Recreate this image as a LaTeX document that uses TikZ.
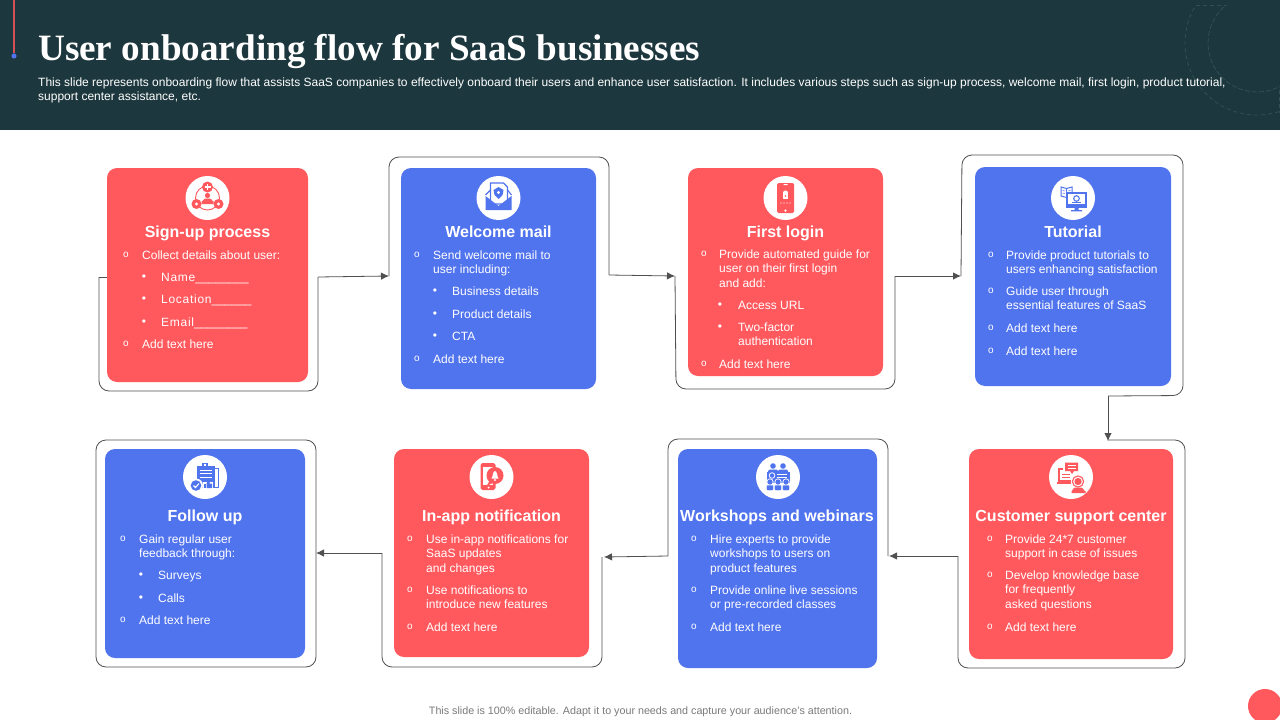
\documentclass[tikz,border=0pt]{standalone}
\usepackage{fontspec}
\setmainfont{Liberation Sans}
\newfontfamily\titlefont{Liberation Serif}
\usetikzlibrary{arrows.meta}
\definecolor{hdr}{HTML}{1C373D}
\definecolor{hdrdeco}{HTML}{305055}
\definecolor{cred}{HTML}{FF585D}
\definecolor{cblue}{HTML}{5073EE}
\definecolor{wire}{HTML}{505050}
\definecolor{foot}{HTML}{7A7A7A}
\newcounter{tn}
\newcommand\wideword[1]{{\addfontfeatures{LetterSpace=6}#1}}
\tikzset{
  card/.style={rectangle,rounded corners=10pt,inner sep=0pt,draw=none},
  disc/.style={circle,fill=white,minimum size=44pt,inner sep=0pt,draw=none},
  head/.style={font=\fontsize{16}{18}\selectfont\bfseries,text=white,inner sep=0pt,anchor=base},
  txt/.style={anchor=north west,inner sep=0pt,align=left,text=white,font=\fontsize{12}{14.4}\selectfont},
  bul/.style={anchor=base,inner sep=0pt,text=white,font=\fontsize{10}{10}\selectfont},
  dotbul/.style={anchor=base,inner sep=0pt,text=white,font=\fontsize{12}{12}\selectfont},
  wirefr/.style={draw=wire,line width=0.8pt,rounded corners=10pt},
  wirearrow/.style={draw=wire,line width=0.8pt,-{Latex[length=8pt,width=7.5pt]}},
}
\newcommand\Oitem[4]{\stepcounter{tn}%
  \node[bul] (b\thetn) at (#1,#3-2) {o};
  \node[txt] (t\thetn) at (#2,#3-9) {\rule{0pt}{9pt}#4};}
\newcommand\Ditem[4]{\stepcounter{tn}%
  \node[dotbul] (b\thetn) at (#1,#3-1) {•};
  \node[txt] (t\thetn) at (#2,#3-9) {\rule{0pt}{9pt}#4};}
\begin{document}
\begin{tikzpicture}[x=1pt,y=-1pt]
\useasboundingbox (0,0) rectangle (1280,720);
\clip (0,0) rectangle (1280,720);
\fill[white] (0,0) rectangle (1280,720);
% header
\fill[hdr] (0,0) rectangle (1280,130);
\begin{scope}
  \clip (1180,5) rectangle (1280,130);
  \draw[hdrdeco,line width=0.8pt,dash pattern=on 5pt off 2pt] (1257,43) circle[radius=49];
  \draw[hdrdeco,line width=0.8pt,dash pattern=on 4pt off 3pt] (1257,43) circle[radius=72];
\end{scope}
\draw[hdrdeco,line width=0.8pt,dash pattern=on 4pt off 3pt] (1196,5) -- (1227,5);
\draw[hdrdeco,line width=0.8pt,dash pattern=on 4pt off 3pt] (1279,90) -- (1279,113);
\draw[cred!80!hdr,line width=1.2pt] (14,0) -- (14,53);
\fill[cblue] (14,56) circle[radius=2.6];
\node[anchor=base west,inner sep=0pt,text=white,font=\fontsize{37.17}{42}\titlefont\bfseries] (title) at (38,60) {User onboarding flow for SaaS businesses};
\node[anchor=north west,inner sep=0pt,align=left,text=white,font=\fontsize{12}{14.2}\selectfont] (desc) at (38,77) {\rule{0pt}{9pt}This slide represents onboarding flow that assists SaaS companies to effectively onboard their users and enhance user satisfaction. It includes various steps such as sign-up process, welcome mail, first login, product tutorial,\\support center assistance, etc.};
% connector junctions
\coordinate (j0) at (107,277);
\coordinate (j0b) at (99,277);
\coordinate (j1) at (389,276);
\coordinate (j2) at (675,276);
\coordinate (j3) at (961,276);
\coordinate (j4) at (1108,441);
\coordinate (j5) at (889,556);
\coordinate (j6) at (604,557);
\coordinate (j7) at (316,553);
\coordinate (k1) at (318,277);
\coordinate (k2) at (609,275);
\coordinate (k3) at (895,276);
\coordinate (k4) at (1108,396);
\coordinate (k5) at (958,556);
\coordinate (k6) at (668,556);
\coordinate (k7) at (382,553);
% frames and arrows
\draw[wirefr] (j0) -- (j0b);
\draw[wirefr] (j0b) -- (99,391) -- (318,391) -- (k1);
\draw[wirearrow] (k1) -- (j1);
\draw[wirefr] (j1) -- (389,157) -- (609,157) -- (k2);
\draw[wirearrow] (k2) -- (j2);
\draw[wirefr] (j2) -- (676,389) -- (895,389) -- (k3);
\draw[wirearrow] (k3) -- (j3);
\draw[wirefr] (j3) -- (962,155) -- (1183,155) -- (1183,395.5) -- (k4);
\draw[wirearrow] (k4) -- (j4);
\draw[wirefr] (1108,440) -- (1185,440) -- (1185,668) -- (958,668) -- (k5);
\draw[wirearrow] (k5) -- (j5);
\draw[wirefr] (888,556) -- (888,439) -- (668,439) -- (k6);
\draw[wirearrow] (k6) -- (j6);
\draw[wirefr] (602,557) -- (602,667) -- (382,667) -- (k7);
\draw[wirearrow] (k7) -- (j7);
\draw[wirefr] (j7) -- (316,440) -- (96,440) -- (96,667) -- (316,667) -- (j7);
% cards
\node[card,fill=cred,minimum width=201pt,minimum height=214pt] (c1) at (207.5,275) {};
\node[card,fill=cblue,minimum width=195pt,minimum height=221pt] (c2) at (498.5,278.5) {};
\node[card,fill=cred,minimum width=195pt,minimum height=208pt] (c3) at (785.5,272) {};
\node[card,fill=cblue,minimum width=196pt,minimum height=219pt] (c4) at (1073,276.5) {};
\node[card,fill=cred,minimum width=204pt,minimum height=210pt] (c5) at (1071,554) {};
\node[card,fill=cblue,minimum width=199pt,minimum height=219pt] (c6) at (777.5,558.5) {};
\node[card,fill=cred,minimum width=195pt,minimum height=208pt] (c7) at (491.5,553) {};
\node[card,fill=cblue,minimum width=200pt,minimum height=209pt] (c8) at (205,553.5) {};
% discs
\node[disc] (d1) at (207.5,198) {};
\node[disc] (d2) at (498.5,198) {};
\node[disc] (d3) at (785.5,198) {};
\node[disc] (d4) at (1073,198) {};
\node[disc] (d5) at (1071,477) {};
\node[disc] (d6) at (778,477) {};
\node[disc] (d7) at (491.5,477) {};
\node[disc] (d8) at (205,477) {};
% icon 1
\begin{scope}[shift={(d1.center)}]
  \draw[cred,line width=0.9pt] (0,0) circle[radius=12];
  \fill[cred] (0,-11) circle[radius=5.5] (-11,6) circle[radius=5] (11,6) circle[radius=5];
  \draw[white,line width=1.2pt] (-3,-11) -- (3,-11) (0,-14) -- (0,-8);
  \fill[white] (-11,6) circle[radius=1.6] (11,6) circle[radius=1.6];
  \fill[cred] (0,-2.5) circle[radius=2.6];
  \fill[cred] (-6,6) -- (-6,3) to[out=-90,in=180] (-2,0.5) -- (2,0.5) to[out=0,in=-90] (6,3) -- (6,6) -- cycle;
\end{scope}
% icon 2
\begin{scope}[shift={(d2.center)}]
  \fill[white,draw=cblue,line width=1.3pt] (-8,-15) -- (5,-15) -- (9,-11) -- (9,6) -- (-8,6) -- cycle;
  \draw[cblue,line width=1.1pt] (-8,-8) -- (-13,-3) (9,-8) -- (13,-3);
  \fill[cblue] (-13,-2) -- (0,8) -- (13,-2) -- (13,12) -- (-13,12) -- cycle;
  \fill[cblue] (-5,-8) -- (0,-11) -- (5,-8) -- (4,-3) -- (0,1) -- (-4,-3) -- cycle;
  \fill[white] (0,-5.5) circle[radius=1.7];
\end{scope}
% icon 3
\begin{scope}[shift={(d3.center)}]
  \fill[cred,rounded corners=1.5pt] (-8.5,-15) rectangle (8.5,15);
  \fill[white] (-2,-14) rectangle (2,-13) (0,12.6) circle[radius=1.3];
  \fill[white] (0,-5) circle[radius=2.6];
  \fill[white] (-2.5,-4) rectangle (2.5,0.5);
  \fill[cred] (0,-2) circle[radius=0.9];
  \fill[white] (-4.5,5) circle[radius=0.7] (-1.5,5) circle[radius=0.7] (1.5,5) circle[radius=0.7] (4.5,5) circle[radius=0.7];
\end{scope}
% icon 4
\begin{scope}[shift={(d4.center)}]
  \draw[cblue,line width=1pt,fill=white] (-12,-11) -- (-6.5,-9.5) -- (-1,-11) -- (-1,-2) -- (-6.5,-0.5) -- (-12,-2) -- cycle;
  \draw[cblue,line width=1pt] (-6.5,-9.5) -- (-6.5,-0.5);
  \draw[cblue,line width=0.5pt] (-10.5,-7.5) -- (-8,-7) (-10.5,-5) -- (-8,-4.5) (-2.5,-7.5) -- (-5,-7) (-2.5,-5) -- (-5,-4.5);
  \draw[cblue,line width=1.2pt,fill=white] (-6,-5) rectangle (13,9);
  \fill[cblue] (-6,6) rectangle (13,9);
  \fill[cblue] (1.5,9) rectangle (5.5,12) (-2,12) rectangle (9,13.3);
  \draw[cblue,line width=1.1pt] (3.5,0.5) circle[radius=2.8];
  \fill[cblue] (-1,3.5) rectangle (8,5);
\end{scope}
% icon 5
\begin{scope}[shift={(d5.center)}]
  \fill[cred] (-6,-14.5) rectangle (7,-6) (-1,-6) -- (3,-6) -- (1,-3) -- cycle;
  \draw[white,line width=0.6pt] (-3.5,-12) -- (4.5,-12) (-3.5,-9) -- (4.5,-9);
  \draw[cred,line width=1.2pt] (-8,-8) -- (-12,-8) -- (-12,4) -- (1,4);
  \fill[cred] (-14.5,4.5) rectangle (2,7);
  \draw[cred,line width=0.9pt] (-9,-3) -- (-1,-3) (-9,0) -- (-1,0);
  \fill[white] (7,5) circle[radius=7.2];
  \fill[cred] (7,4.5) circle[radius=3.6];
  \draw[cred,line width=1.1pt] (7,4.5) circle[radius=5.6];
  \fill[cred] (0.5,16) -- (0.5,14) to[out=-90,in=180] (4,10.5) -- (10,10.5) to[out=0,in=-90] (14.5,14) -- (14.5,16) -- cycle;
\end{scope}
% icon 6
\begin{scope}[shift={(d6.center)}]
  \fill[cblue] (-5,-11) circle[radius=2.8] (5,-11) circle[radius=2.8];
  \fill[cblue,rounded corners=1.5pt] (-10,-7.5) rectangle (0,-2) (0,-7.5) rectangle (10,-2);
  \fill[cblue] (-11.5,-5.5) rectangle (11.5,6);
  \draw[white,line width=0.8pt] (-1,-2.5) -- (9,-2.5) (-1,0.5) -- (9,0.5);
  \draw[white,line width=0.8pt] (-6,-1.5) circle[radius=2.8];
  \foreach \u/\nn in {-8/a,0/b,8/c}{
    \fill[cblue,draw=white,line width=0.7pt] (\u,5) circle[radius=3.2];
    \fill[cblue,draw=white,line width=0.5pt,rounded corners=1pt] (\u-3.7,8) rectangle (\u+3.7,13.5);
  }
\end{scope}
% icon 7
\begin{scope}[shift={(d7.center)}]
  \fill[cred,rounded corners=1.8pt] (-11,-14) rectangle (4,13);
  \fill[white] (-8.5,-10.5) rectangle (1.5,8);
  \fill[white] (-3,10.5) circle[radius=1];
  \fill[cred] (3.5,-1.5) circle[radius=8.5];
  \fill[cred] (-2,4) -- (-5,9) -- (1,6) -- cycle;
  \fill[white] (0,1.5) .. controls (1.5,0) and (1,-6) .. (3.5,-6) .. controls (6,-6) and (5.5,0) .. (7,1.5) -- cycle;
  \fill[white] (3.5,3) circle[radius=1.1];
\end{scope}
% icon 8
\begin{scope}[shift={(d8.center)}]
  \draw[cblue,line width=1pt] (10,-9) -- (13.5,-9) -- (13.5,10.5) -- (6,10.5);
  \fill[cblue] (-8,-11) rectangle (10,11);
  \fill[cblue] (-3,-14) rectangle (3,-10);
  \fill[white] (-1,-13) rectangle (1,-11.5);
  \draw[white,line width=0.9pt] (-5,-7) -- (7,-7) (-5,-3.5) -- (7,-3.5) (-5,0) -- (7,0);
  \fill[white] (-9,8.5) circle[radius=7];
  \fill[cblue] (-9,8.5) circle[radius=5.3];
  \draw[white,line width=1.1pt] (-11.5,8.5) -- (-9.5,10.5) -- (-6,6.5);
  \fill[white] (-2,4.5) rectangle (8,12);
  \fill[cblue] (-1,6.5) rectangle (0.8,11);
  \fill[cblue] (1.5,11) -- (1.5,6.5) -- (3.5,3) -- (5,4) -- (4.5,6.5) -- (7,6.5) -- (7,11) -- cycle;
\end{scope}
% headings
\node[head] (h1) at (207.5,237.5) {Sign-up process};
\node[head] (h2) at (498.5,237.5) {Welcome mail};
\node[head] (h3) at (785.5,237.5) {First login};
\node[head] (h4) at (1073,237.5) {Tutorial};
\node[head] (h5) at (1071,521) {Customer support center};
\node[head] (h6) at (777,521) {Workshops and webinars};
\node[head] (h7) at (491.5,521) {In-app notification};
\node[head] (h8) at (205,521) {Follow up};
% card 1
\Oitem{126}{142}{259}{Collect details about user:}
\Ditem{144}{161}{281}{\wideword{Name}\_\_\_\_\_\_\_\_}
\Ditem{144}{161}{303}{\wideword{Location}\_\_\_\_\_\_}
\Ditem{144}{161}{326}{\wideword{Email}\_\_\_\_\_\_\_\_}
\Oitem{126}{142}{348}{Add text here}
% card 2
\Oitem{417}{433}{259}{Send welcome mail to\\user including:}
\Ditem{435}{452}{295}{Business details}
\Ditem{435}{452}{318}{Product details}
\Ditem{435}{452}{340}{CTA}
\Oitem{417}{433}{363}{Add text here}
% card 3
\Oitem{704}{719}{258}{Provide automated guide for\\user on their first login\\and add:}
\Ditem{720}{738}{309}{Access URL}
\Ditem{720}{738}{331}{Two-factor\\authentication}
\Oitem{704}{719}{368}{Add text here}
% card 4
\Oitem{991}{1006}{259}{Provide product tutorials to\\users enhancing satisfaction}
\Oitem{991}{1006}{295}{Guide user through\\essential features of SaaS}
\Oitem{991}{1006}{332}{Add text here}
\Oitem{991}{1006}{355}{Add text here}
% card 5
\Oitem{990}{1005}{543}{Provide 24*7 customer\\support in case of issues}
\Oitem{990}{1005}{579}{Develop knowledge base\\for frequently\\asked questions}
\Oitem{990}{1005}{631}{Add text here}
% card 6
\Oitem{694}{710}{543}{Hire experts to provide\\workshops to users on\\product features}
\Oitem{694}{710}{594}{Provide online live sessions\\or pre-recorded classes}
\Oitem{694}{710}{631}{Add text here}
% card 7
\Oitem{410}{426}{543}{Use in-app notifications for\\SaaS updates\\and changes}
\Oitem{410}{426}{594}{Use notifications to\\introduce new features}
\Oitem{410}{426}{631}{Add text here}
% card 8
\Oitem{123}{139}{543}{Gain regular user\\feedback through:}
\Ditem{141}{158}{579}{Surveys}
\Ditem{141}{158}{602}{Calls}
\Oitem{123}{139}{624}{Add text here}
% footer
\node[anchor=base,inner sep=0pt,text=foot,font=\fontsize{10.73}{12}\selectfont] (footer) at (640.5,714) {This slide is 100\% editable. Adapt it to your needs and capture your audience's attention.};
\fill[cred] (1265,706) circle[radius=17];
\end{tikzpicture}
\end{document}
